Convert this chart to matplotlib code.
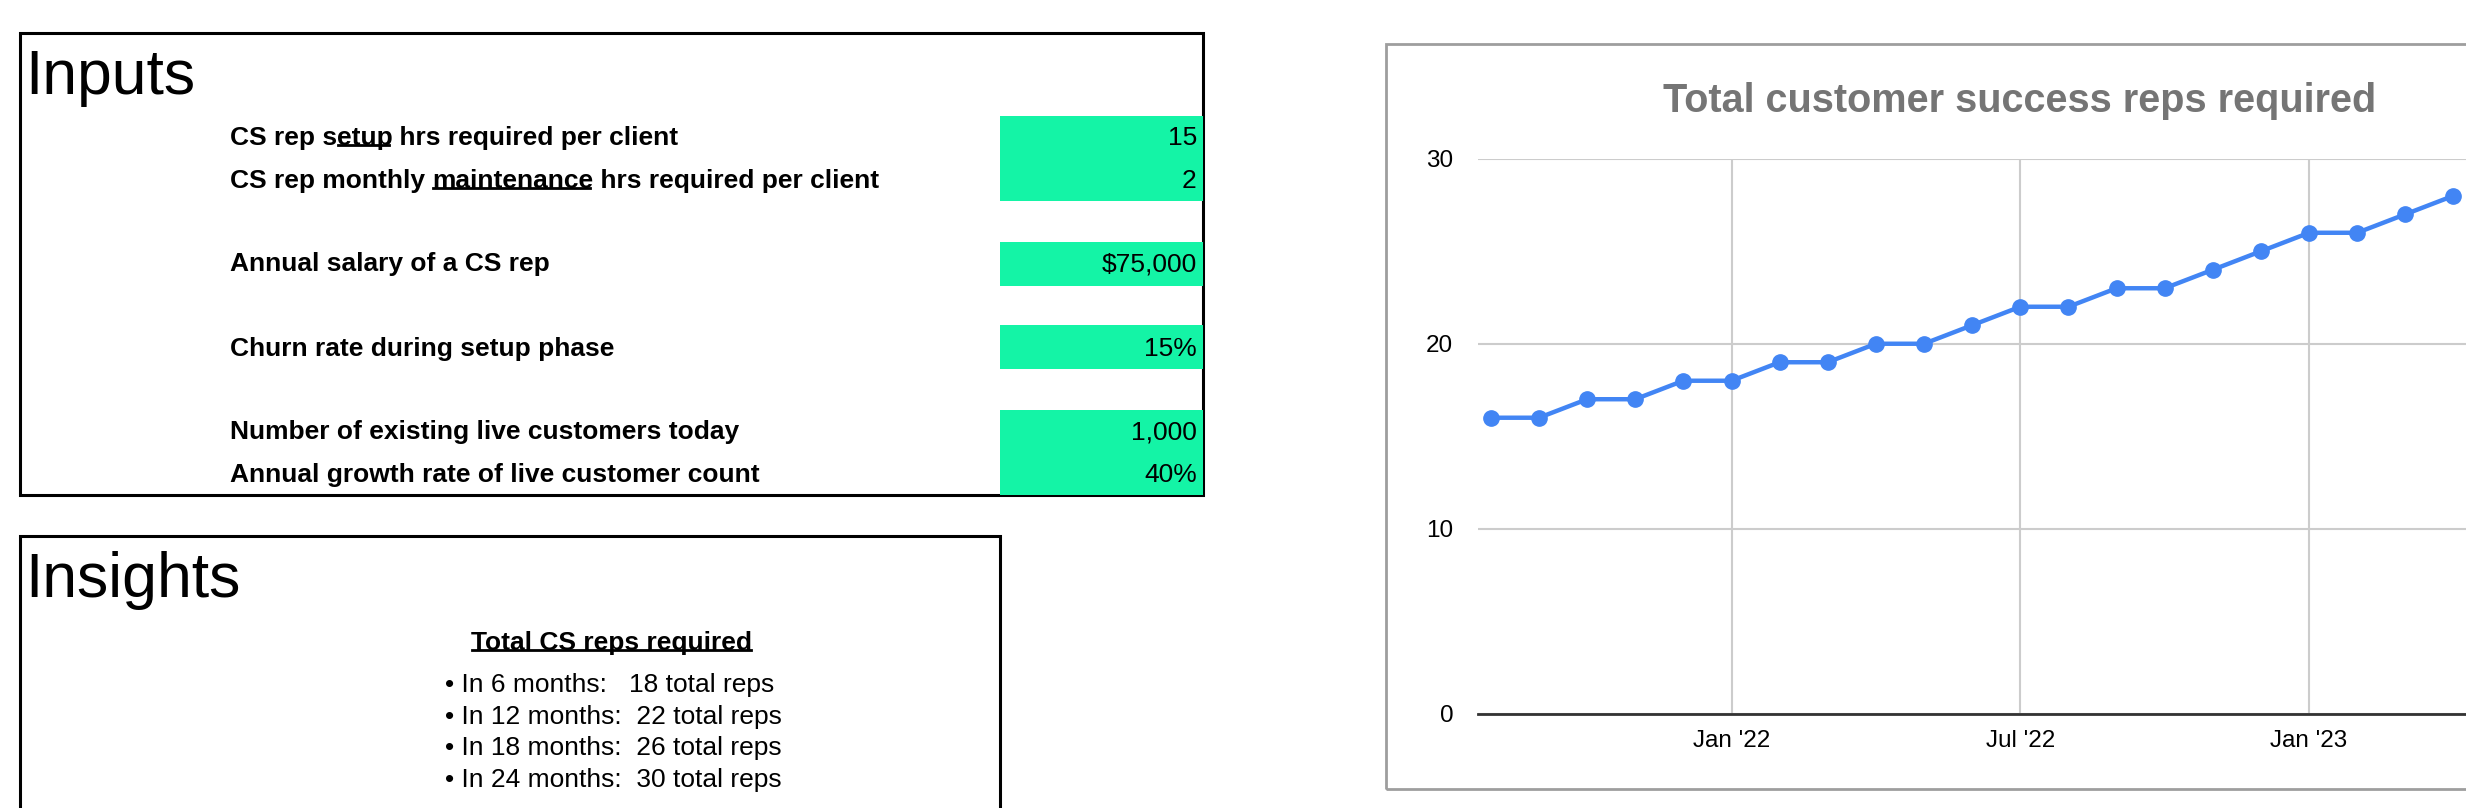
import matplotlib
matplotlib.use("Agg")
import matplotlib.pyplot as plt
from matplotlib.patches import Rectangle

plt.rcParams["font.family"] = ["Liberation Sans", "DejaVu Sans"]

# data
input_labels = [
    ["CS rep s", "etup", " hrs required per client"],
    ["CS rep monthly ", "maintenance", " hrs required per client"],
    ["Annual salary of a CS rep"],
    ["Churn rate during setup phase"],
    ["Number of existing live customers today"],
    ["Annual growth rate of live customer count"],
]
input_values = ["15", "2", "$75,000", "15%", "1,000", "40%"]
insight_lines = [
    "\u2022 In 6 months:   18 total reps",
    "\u2022 In 12 months:  22 total reps",
    "\u2022 In 18 months:  26 total reps",
    "\u2022 In 24 months:  30 total reps",
]
month_labels = ["Aug '21", "Sep '21", "Oct '21", "Nov '21", "Dec '21", "Jan '22", "Feb '22",
                "Mar '22", "Apr '22", "May '22", "Jun '22", "Jul '22", "Aug '22", "Sep '22",
                "Oct '22", "Nov '22", "Dec '22", "Jan '23", "Feb '23", "Mar '23", "Apr '23"]
reps = [16, 16, 17, 17, 18, 18, 19, 19, 20, 20, 21, 22, 22, 23, 23, 24, 25, 26, 26, 27, 28]
tick_labels = ["Jan '22", "Jul '22", "Jan '23"]

W, H = 1568, 514  # layout measured on the scaled reference
LABEL_SIZE = 19
fig = plt.figure(figsize=(24.66, 8.08), dpi=100)


def fx(x):
    return x / W


def fy(y):
    return 1 - y / H


def box(x0, y0, x1, y1, **kw):
    fig.patches.append(Rectangle((fx(x0), fy(y1)), fx(x1) - fx(x0), fy(y0) - fy(y1),
                                 transform=fig.transFigure, **kw))


def underline(bb, trim=3):
    ly = (bb.y0 + 5) / fig.bbox.height
    fig.add_artist(plt.Line2D([(bb.x0 + 1) / fig.bbox.width, (bb.x1 - trim) / fig.bbox.width],
                              [ly, ly], transform=fig.transFigure, color="black", lw=2))


def text_parts(x, y, parts, underline_idx, size=LABEL_SIZE):
    """Draw text pieces one after another, underlining the chosen ones."""
    renderer = fig.canvas.get_renderer()
    px = fx(x) * fig.bbox.width
    for i, part in enumerate(parts):
        t = fig.text(px / fig.bbox.width, fy(y), part, fontsize=size, fontweight="bold",
                     va="center", ha="left")
        bb = t.get_window_extent(renderer)
        if i in underline_idx:
            underline(bb)
        px = bb.x1


# Inputs panel
box(13, 21, 765, 315, fill=False, edgecolor="black", lw=2.2)
fig.text(fx(16), fy(49), "Inputs", fontsize=45, va="center", ha="left")
green = "#14f4a6"
for y0, y1 in [(74, 128), (154, 182), (207, 235), (261, 315)]:
    box(636, y0, 765, y1, facecolor=green, edgecolor="none")
row_y = [88, 115, 168, 222, 275, 302]
underlines = [{1}, {1}, set(), set(), set(), set()]
for parts, ul, val, y in zip(input_labels, underlines, input_values, row_y):
    text_parts(146, y, parts, ul)
    fig.text(fx(761), fy(y), val, fontsize=LABEL_SIZE, va="center", ha="right")

# Insights panel
box(13, 341, 636, 530, fill=False, edgecolor="black", lw=2.2)
fig.text(fx(16), fy(369), "Insights", fontsize=45, va="center", ha="left")
t = fig.text(fx(389), fy(409), "Total CS reps required", fontsize=LABEL_SIZE, fontweight="bold",
             va="center", ha="center")
underline(t.get_window_extent(fig.canvas.get_renderer()), trim=1)
for i, line in enumerate(insight_lines):
    fig.text(fx(283), fy(436 + 20 * i), line, fontsize=LABEL_SIZE, va="center", ha="left")

# Chart panel
box(881, 28, 1575, 502, fill=False, edgecolor="#9e9e9e", lw=2)
fig.text(fx(1284), fy(64), "Total customer success reps required", fontsize=28.5,
         fontweight="bold", color="#757575", va="center", ha="center")
ax = fig.add_axes([fx(940), fy(454), fx(1568) - fx(940), fy(101) - fy(454)])
x = list(range(len(reps)))
ax.plot(x, reps, color="#4285f4", lw=3.2, marker="o", markersize=11, clip_on=False, zorder=3)
ax.set_xlim(-0.26, 20.26)
ax.set_ylim(0, 30)
ax.set_yticks([0, 10, 20, 30])
ticks = [month_labels.index(lbl) for lbl in tick_labels]
ax.set_xticks(ticks, labels=tick_labels)
ax.grid(True, color="#cccccc", lw=1.5)
ax.set_axisbelow(True)
for side in ["top", "right", "left"]:
    ax.spines[side].set_visible(False)
ax.spines["bottom"].set_color("#333333")
ax.spines["bottom"].set_linewidth(2)
ax.tick_params(length=0, labelsize=17.5, pad=12)
ax.tick_params(axis="y", pad=18)

fig.savefig("out.png", dpi=100)
